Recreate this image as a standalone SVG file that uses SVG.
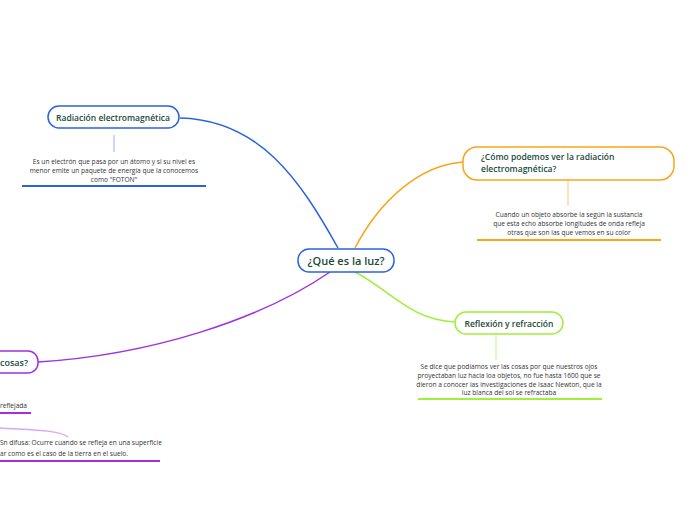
<svg xmlns="http://www.w3.org/2000/svg" width="696" height="520" viewBox="0 0 696 520">
<style>
text{font-family:"Open Sans","Noto Sans",sans-serif;}
.t{font-size:11px;font-weight:600;fill:#1a4a3a}
.s{font-size:6.6px;fill:#333;text-anchor:middle}
.s2{font-size:6.6px;fill:#333}
</style>
<rect width="696" height="520" fill="#fff"/>
<g id="connectors" fill="none" stroke-width="1.5">
<path d="M338,248 C300,180 260,120 180,118" stroke="#2a63e0"/>
<path d="M355,248 C380,200 420,165 463,162" stroke="#f9a51a"/>
<path d="M355,272 C390,290 410,320 455,322" stroke="#9ef03a"/>
<path d="M330,272 C260,320 150,355 38,362" stroke="#a030e0"/>
<path d="M114,135 V152" stroke="#b8c8f4"/>
<path d="M568,180 V206" stroke="#fcd8a8"/>
<path d="M496,334 V360" stroke="#d6f8b0"/>
<path d="M0,428 C30,430 60,430 68,437" stroke="#d8a8f4"/>
</g>
<g id="center"><rect x="298" y="249" width="96" height="23" rx="11" fill="#fff" stroke="#2a63e0" stroke-width="1.5"/><text x="346" y="265" class="t" text-anchor="middle">¿Qué es la luz?</text></g>
<g id="rad"><rect x="48" y="106" width="131" height="22" rx="11" fill="#fff" stroke="#2a63e0" stroke-width="1.5"/><text x="113" y="121" class="t" style="font-size:8.5px" text-anchor="middle">Radiación electromagnética</text>
<text class="s" x="114" y="164">Es un electrón que pasa por un átomo y si su nivel es</text>
<text class="s" x="114" y="173">menor emite un paquete de energía que la conocemos</text>
<text class="s" x="114" y="182">como "FOTON"</text>
<line x1="22" y1="186" x2="206" y2="186" stroke="#2a63e0" stroke-width="2"/></g>
<g id="como"><rect x="463" y="147" width="211" height="33" rx="14" fill="#fff" stroke="#f9a51a" stroke-width="1.5"/><text class="t" style="font-size:8.5px" x="481" y="160">¿Cómo podemos ver la radiación</text><text class="t" style="font-size:8.5px" x="481" y="172">electromagnética?</text>
<text class="s" x="569" y="217">Cuando un objeto absorbe la según la sustancia</text>
<text class="s" x="569" y="226">que esta echo absorbe longitudes de onda  refleja</text>
<text class="s" x="569" y="235">otras que son las que vemos en su color</text>
<line x1="477" y1="240" x2="661" y2="240" stroke="#f9a51a" stroke-width="2"/></g>
<g id="refl"><rect x="455" y="312" width="108" height="22" rx="11" fill="#fff" stroke="#9ef03a" stroke-width="1.5"/><text class="t" style="font-size:8.5px" x="509" y="327" text-anchor="middle">Reflexión y refracción</text>
<text class="s" x="509" y="369">Se dice que podíamos ver las cosas  por que nuestros ojos</text>
<text class="s" x="509" y="378">proyectaban luz hacia loa objetos, no fue hasta 1600 que se</text>
<text class="s" x="509" y="387">dieron a conocer las investigaciones de Isaac Newton, que la</text>
<text class="s" x="509" y="395">luz blanca del sol se refractaba</text>
<line x1="418" y1="399" x2="602" y2="399" stroke="#9ef03a" stroke-width="2"/></g>
<g id="cosas"><rect x="-20" y="351" width="58" height="22" rx="10" fill="#fff" stroke="#a030e0" stroke-width="1.5"/><text class="t" style="font-size:9px" x="0" y="366">cosas?</text>
<text class="s2" x="0" y="408">reflejada</text>
<line x1="0" y1="413" x2="31" y2="413" stroke="#a030e0" stroke-width="2"/>
<text class="s2" x="0" y="445">Sn difusa: Ocurre cuando se refleja en una superficie</text>
<text class="s2" x="0" y="456">ar como es el caso de la tierra en el suelo.</text>
<line x1="0" y1="461" x2="160" y2="461" stroke="#a030e0" stroke-width="2"/></g>
</svg>
